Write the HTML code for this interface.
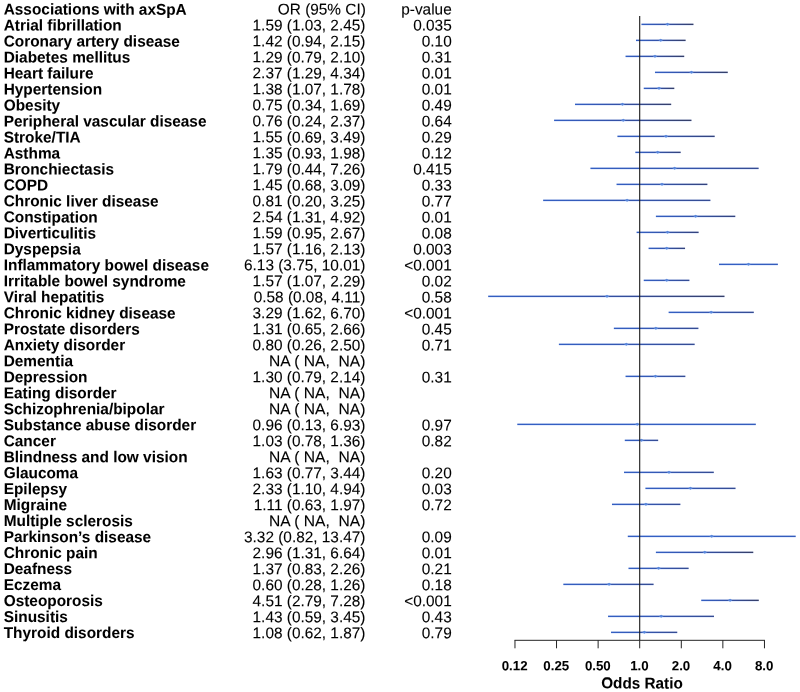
<!DOCTYPE html>
<html lang="en"><head><meta charset="utf-8"><title>Associations with axSpA</title>
<style>
html,body{margin:0;padding:0;background:#fff;}
svg{display:block}
text{font-family:"Liberation Sans",Arial,sans-serif;fill:#000;text-rendering:geometricPrecision;}
.or,.pv{stroke:#000;stroke-width:0.1px;}
.lab,.tk,.ax{stroke:#000;stroke-width:0.05px;}
.lab{font-weight:bold;font-size:15.4px;}
.or{font-size:15.38px;text-anchor:end;}
.pv{font-size:15.38px;text-anchor:end;}
.tk{font-weight:bold;font-size:13.3px;text-anchor:middle;}
.ax{font-weight:bold;font-size:15.3px;text-anchor:middle;}
</style></head><body>
<svg width="800" height="692" viewBox="0 0 800 692">
<defs><linearGradient id="ga" x1="0" x2="1" y1="0" y2="0"><stop offset="0" stop-color="#2150bc"/><stop offset="0.5" stop-color="#213f9a"/><stop offset="1" stop-color="#242c56"/></linearGradient><linearGradient id="gb" x1="0" x2="1" y1="0" y2="0"><stop offset="0" stop-color="#2150bc"/><stop offset="0.5" stop-color="#2247a8"/><stop offset="1" stop-color="#233a86"/></linearGradient><linearGradient id="gc" x1="0" x2="1" y1="0" y2="0"><stop offset="0" stop-color="#2150bc"/><stop offset="0.5" stop-color="#2150bc"/><stop offset="1" stop-color="#224db4"/></linearGradient><linearGradient id="gd" x1="0" x2="1" y1="0" y2="0"><stop offset="0" stop-color="#2150bc"/><stop offset="0.5" stop-color="#21439f"/><stop offset="1" stop-color="#22306c"/></linearGradient></defs>
<rect width="800" height="692" fill="#fff"/>
<text class="lab" transform="translate(3.7 14.50) scale(1.0 1.02) rotate(0.06)">Associations with axSpA</text>
<text class="or" transform="translate(365.8 14.50) scale(1.0 1.01) rotate(0.06)">OR (95% CI)</text>
<text class="pv" transform="translate(451.7 14.50) scale(1.0 1.01) rotate(0.06)">p-value</text>
<text class="lab" transform="translate(3.7 30.49) scale(1.0 1.02) rotate(0.06)">Atrial fibrillation</text>
<text class="or" transform="translate(365.4 30.50) scale(1.0 1.01) rotate(0.06)" style="white-space:pre">1.59 (1.03, 2.45)</text>
<text class="pv" transform="translate(451.7 30.50) scale(1.0 1.01) rotate(0.06)">0.035</text>
<rect x="641.47" y="23.50" width="51.98" height="2.2" fill="#4f86f0" opacity="0.2"/>
<rect x="641.47" y="23.70" width="51.98" height="1.2" fill="url(#ga)"/>
<polygon points="665.22,24.30 667.52,22.80 669.82,24.30 667.52,25.80" fill="#5a88dc"/>
<text class="lab" transform="translate(3.7 46.47) scale(1.0 1.02) rotate(0.06)">Coronary artery disease</text>
<text class="or" transform="translate(365.4 46.49) scale(1.0 1.01) rotate(0.06)" style="white-space:pre">1.42 (0.94, 2.15)</text>
<text class="pv" transform="translate(451.7 46.49) scale(1.0 1.01) rotate(0.06)">0.10</text>
<rect x="635.99" y="39.50" width="49.63" height="2.2" fill="#4f86f0" opacity="0.2"/>
<rect x="635.99" y="39.70" width="49.63" height="1.2" fill="url(#ga)"/>
<polygon points="658.43,40.30 660.73,38.80 663.03,40.30 660.73,41.80" fill="#5a88dc"/>
<text class="lab" transform="translate(3.7 62.46) scale(1.0 1.02) rotate(0.06)">Diabetes mellitus</text>
<text class="or" transform="translate(365.4 62.49) scale(1.0 1.01) rotate(0.06)" style="white-space:pre">1.29 (0.79, 2.10)</text>
<text class="pv" transform="translate(451.7 62.49) scale(1.0 1.01) rotate(0.06)">0.31</text>
<rect x="625.56" y="55.50" width="58.65" height="2.2" fill="#4f86f0" opacity="0.2"/>
<rect x="625.56" y="55.70" width="58.65" height="1.2" fill="url(#ga)"/>
<polygon points="652.68,56.30 654.98,54.80 657.28,56.30 654.98,57.80" fill="#5a88dc"/>
<text class="lab" transform="translate(3.7 78.45) scale(1.0 1.02) rotate(0.06)">Heart failure</text>
<text class="or" transform="translate(365.4 78.48) scale(1.0 1.01) rotate(0.06)" style="white-space:pre">2.37 (1.29, 4.34)</text>
<text class="pv" transform="translate(451.7 78.48) scale(1.0 1.01) rotate(0.06)">0.01</text>
<rect x="654.98" y="71.50" width="72.78" height="2.2" fill="#4f86f0" opacity="0.2"/>
<rect x="654.98" y="71.70" width="72.78" height="1.2" fill="url(#ga)"/>
<polygon points="689.16,72.30 691.46,70.80 693.76,72.30 691.46,73.80" fill="#5a88dc"/>
<text class="lab" transform="translate(3.7 94.44) scale(1.0 1.02) rotate(0.06)">Hypertension</text>
<text class="or" transform="translate(365.4 94.48) scale(1.0 1.01) rotate(0.06)" style="white-space:pre">1.38 (1.07, 1.78)</text>
<text class="pv" transform="translate(451.7 94.48) scale(1.0 1.01) rotate(0.06)">0.01</text>
<rect x="643.76" y="87.50" width="30.53" height="2.2" fill="#4f86f0" opacity="0.2"/>
<rect x="643.76" y="87.70" width="30.53" height="1.2" fill="url(#ga)"/>
<polygon points="656.72,88.30 659.02,86.80 661.32,88.30 659.02,89.80" fill="#5a88dc"/>
<text class="lab" transform="translate(3.7 110.42) scale(1.0 1.02) rotate(0.06)">Obesity</text>
<text class="or" transform="translate(365.4 110.48) scale(1.0 1.01) rotate(0.06)" style="white-space:pre">0.75 (0.34, 1.69)</text>
<text class="pv" transform="translate(451.7 110.48) scale(1.0 1.01) rotate(0.06)">0.49</text>
<rect x="574.99" y="103.50" width="96.19" height="2.2" fill="#4f86f0" opacity="0.2"/>
<rect x="574.99" y="103.70" width="96.19" height="1.2" fill="url(#ga)"/>
<polygon points="620.14,104.30 622.44,102.80 624.74,104.30 622.44,105.80" fill="#5a88dc"/>
<text class="lab" transform="translate(3.7 126.41) scale(1.0 1.02) rotate(0.06)">Peripheral vascular disease</text>
<text class="or" transform="translate(365.4 126.47) scale(1.0 1.01) rotate(0.06)" style="white-space:pre">0.76 (0.24, 2.37)</text>
<text class="pv" transform="translate(451.7 126.47) scale(1.0 1.01) rotate(0.06)">0.64</text>
<rect x="554.09" y="119.50" width="137.37" height="2.2" fill="#4f86f0" opacity="0.2"/>
<rect x="554.09" y="119.70" width="137.37" height="1.2" fill="url(#ga)"/>
<polygon points="620.94,120.30 623.24,118.80 625.54,120.30 623.24,121.80" fill="#5a88dc"/>
<text class="lab" transform="translate(3.7 142.40) scale(1.0 1.02) rotate(0.06)">Stroke/TIA</text>
<text class="or" transform="translate(365.4 142.47) scale(1.0 1.01) rotate(0.06)" style="white-space:pre">1.55 (0.69, 3.49)</text>
<text class="pv" transform="translate(451.7 142.47) scale(1.0 1.01) rotate(0.06)">0.29</text>
<rect x="617.44" y="135.50" width="97.24" height="2.2" fill="#4f86f0" opacity="0.2"/>
<rect x="617.44" y="135.70" width="97.24" height="1.2" fill="url(#gd)"/>
<polygon points="663.69,136.30 665.99,134.80 668.29,136.30 665.99,137.80" fill="#5a88dc"/>
<text class="lab" transform="translate(3.7 158.38) scale(1.0 1.02) rotate(0.06)">Asthma</text>
<text class="or" transform="translate(365.4 158.46) scale(1.0 1.01) rotate(0.06)" style="white-space:pre">1.35 (0.93, 1.98)</text>
<text class="pv" transform="translate(451.7 158.46) scale(1.0 1.01) rotate(0.06)">0.12</text>
<rect x="635.35" y="151.50" width="45.33" height="2.2" fill="#4f86f0" opacity="0.2"/>
<rect x="635.35" y="151.70" width="45.33" height="1.2" fill="url(#gd)"/>
<polygon points="655.40,152.30 657.70,150.80 660.00,152.30 657.70,153.80" fill="#5a88dc"/>
<text class="lab" transform="translate(3.7 174.37) scale(1.0 1.02) rotate(0.06)">Bronchiectasis</text>
<text class="or" transform="translate(365.4 174.46) scale(1.0 1.01) rotate(0.06)" style="white-space:pre">1.79 (0.44, 7.26)</text>
<text class="pv" transform="translate(451.7 174.46) scale(1.0 1.01) rotate(0.06)">0.415</text>
<rect x="590.45" y="167.50" width="168.17" height="2.2" fill="#4f86f0" opacity="0.2"/>
<rect x="590.45" y="167.70" width="168.17" height="1.2" fill="url(#gb)"/>
<polygon points="672.33,168.30 674.63,166.80 676.93,168.30 674.63,169.80" fill="#5a88dc"/>
<text class="lab" transform="translate(3.7 190.36) scale(1.0 1.02) rotate(0.06)">COPD</text>
<text class="or" transform="translate(365.4 190.46) scale(1.0 1.01) rotate(0.06)" style="white-space:pre">1.45 (0.68, 3.09)</text>
<text class="pv" transform="translate(451.7 190.46) scale(1.0 1.01) rotate(0.06)">0.33</text>
<rect x="616.57" y="183.50" width="90.81" height="2.2" fill="#4f86f0" opacity="0.2"/>
<rect x="616.57" y="183.70" width="90.81" height="1.2" fill="url(#gd)"/>
<polygon points="659.69,184.30 661.99,182.80 664.29,184.30 661.99,185.80" fill="#5a88dc"/>
<text class="lab" transform="translate(3.7 206.34) scale(1.0 1.02) rotate(0.06)">Chronic liver disease</text>
<text class="or" transform="translate(365.4 206.45) scale(1.0 1.01) rotate(0.06)" style="white-space:pre">0.81 (0.20, 3.25)</text>
<text class="pv" transform="translate(451.7 206.45) scale(1.0 1.01) rotate(0.06)">0.77</text>
<rect x="543.15" y="199.50" width="167.25" height="2.2" fill="#4f86f0" opacity="0.2"/>
<rect x="543.15" y="199.70" width="167.25" height="1.2" fill="url(#gb)"/>
<polygon points="624.76,200.30 627.06,198.80 629.36,200.30 627.06,201.80" fill="#5a88dc"/>
<text class="lab" transform="translate(3.7 222.33) scale(1.0 1.02) rotate(0.06)">Constipation</text>
<text class="or" transform="translate(365.4 222.45) scale(1.0 1.01) rotate(0.06)" style="white-space:pre">2.54 (1.31, 4.92)</text>
<text class="pv" transform="translate(451.7 222.45) scale(1.0 1.01) rotate(0.06)">0.01</text>
<rect x="655.90" y="215.50" width="79.38" height="2.2" fill="#4f86f0" opacity="0.2"/>
<rect x="655.90" y="215.70" width="79.38" height="1.2" fill="url(#gd)"/>
<polygon points="693.32,216.30 695.62,214.80 697.92,216.30 695.62,217.80" fill="#5a88dc"/>
<text class="lab" transform="translate(3.7 238.32) scale(1.0 1.02) rotate(0.06)">Diverticulitis</text>
<text class="or" transform="translate(365.4 238.44) scale(1.0 1.01) rotate(0.06)" style="white-space:pre">1.59 (0.95, 2.67)</text>
<text class="pv" transform="translate(451.7 238.44) scale(1.0 1.01) rotate(0.06)">0.08</text>
<rect x="636.62" y="231.50" width="61.99" height="2.2" fill="#4f86f0" opacity="0.2"/>
<rect x="636.62" y="231.70" width="61.99" height="1.2" fill="url(#gd)"/>
<polygon points="665.22,232.30 667.52,230.80 669.82,232.30 667.52,233.80" fill="#5a88dc"/>
<text class="lab" transform="translate(3.7 254.31) scale(1.0 1.02) rotate(0.06)">Dyspepsia</text>
<text class="or" transform="translate(365.4 254.44) scale(1.0 1.01) rotate(0.06)" style="white-space:pre">1.57 (1.16, 2.13)</text>
<text class="pv" transform="translate(451.7 254.44) scale(1.0 1.01) rotate(0.06)">0.003</text>
<rect x="648.60" y="247.50" width="36.45" height="2.2" fill="#4f86f0" opacity="0.2"/>
<rect x="648.60" y="247.70" width="36.45" height="1.2" fill="url(#gd)"/>
<polygon points="664.46,248.30 666.76,246.80 669.06,248.30 666.76,249.80" fill="#5a88dc"/>
<text class="lab" transform="translate(3.7 270.29) scale(1.0 1.02) rotate(0.06)">Inflammatory bowel disease</text>
<text class="or" transform="translate(365.4 270.44) scale(1.0 1.01) rotate(0.06)" style="white-space:pre">6.13 (3.75, 10.01)</text>
<text class="pv" transform="translate(451.7 270.44) scale(1.0 1.01) rotate(0.06)">&lt;0.001</text>
<rect x="718.99" y="263.50" width="58.90" height="2.2" fill="#4f86f0" opacity="0.2"/>
<rect x="718.99" y="263.70" width="58.90" height="1.2" fill="url(#gc)"/>
<polygon points="746.17,264.30 748.47,262.80 750.77,264.30 748.47,265.80" fill="#5a88dc"/>
<text class="lab" transform="translate(3.7 286.28) scale(1.0 1.02) rotate(0.06)">Irritable bowel syndrome</text>
<text class="or" transform="translate(365.4 286.43) scale(1.0 1.01) rotate(0.06)" style="white-space:pre">1.57 (1.07, 2.29)</text>
<text class="pv" transform="translate(451.7 286.43) scale(1.0 1.01) rotate(0.06)">0.02</text>
<rect x="643.76" y="279.50" width="45.64" height="2.2" fill="#4f86f0" opacity="0.2"/>
<rect x="643.76" y="279.70" width="45.64" height="1.2" fill="url(#gb)"/>
<polygon points="664.46,280.30 666.76,278.80 669.06,280.30 666.76,281.80" fill="#5a88dc"/>
<text class="lab" transform="translate(3.7 302.27) scale(1.0 1.02) rotate(0.06)">Viral hepatitis</text>
<text class="or" transform="translate(365.4 302.43) scale(1.0 1.01) rotate(0.06)" style="white-space:pre">0.58 (0.08, 4.11)</text>
<text class="pv" transform="translate(451.7 302.43) scale(1.0 1.01) rotate(0.06)">0.58</text>
<rect x="488.19" y="295.50" width="236.30" height="2.2" fill="#4f86f0" opacity="0.2"/>
<rect x="488.19" y="295.70" width="236.30" height="1.2" fill="url(#ga)"/>
<polygon points="604.72,296.30 607.02,294.80 609.32,296.30 607.02,297.80" fill="#5a88dc"/>
<text class="lab" transform="translate(3.7 318.25) scale(1.0 1.02) rotate(0.06)">Chronic kidney disease</text>
<text class="or" transform="translate(365.4 318.42) scale(1.0 1.01) rotate(0.06)" style="white-space:pre">3.29 (1.62, 6.70)</text>
<text class="pv" transform="translate(451.7 318.42) scale(1.0 1.01) rotate(0.06)">&lt;0.001</text>
<rect x="668.64" y="311.50" width="85.16" height="2.2" fill="#4f86f0" opacity="0.2"/>
<rect x="668.64" y="311.70" width="85.16" height="1.2" fill="url(#gb)"/>
<polygon points="708.84,312.30 711.14,310.80 713.44,312.30 711.14,313.80" fill="#5a88dc"/>
<text class="lab" transform="translate(3.7 334.24) scale(1.0 1.02) rotate(0.06)">Prostate disorders</text>
<text class="or" transform="translate(365.4 334.42) scale(1.0 1.01) rotate(0.06)" style="white-space:pre">1.31 (0.65, 2.66)</text>
<text class="pv" transform="translate(451.7 334.42) scale(1.0 1.01) rotate(0.06)">0.45</text>
<rect x="613.86" y="327.50" width="84.53" height="2.2" fill="#4f86f0" opacity="0.2"/>
<rect x="613.86" y="327.70" width="84.53" height="1.2" fill="url(#gb)"/>
<polygon points="653.60,328.30 655.90,326.80 658.20,328.30 655.90,329.80" fill="#5a88dc"/>
<text class="lab" transform="translate(3.7 350.23) scale(1.0 1.02) rotate(0.06)">Anxiety disorder</text>
<text class="or" transform="translate(365.4 350.42) scale(1.0 1.01) rotate(0.06)" style="white-space:pre">0.80 (0.26, 2.50)</text>
<text class="pv" transform="translate(451.7 350.42) scale(1.0 1.01) rotate(0.06)">0.71</text>
<rect x="558.89" y="343.50" width="135.77" height="2.2" fill="#4f86f0" opacity="0.2"/>
<rect x="558.89" y="343.70" width="135.77" height="1.2" fill="url(#gb)"/>
<polygon points="624.01,344.30 626.31,342.80 628.61,344.30 626.31,345.80" fill="#5a88dc"/>
<text class="lab" transform="translate(3.7 366.21) scale(1.0 1.02) rotate(0.06)">Dementia</text>
<text class="or" transform="translate(365.4 366.41) scale(1.017 1.01) rotate(0.06)" style="white-space:pre">NA ( NA,  NA)</text>
<text class="lab" transform="translate(3.7 382.20) scale(1.0 1.02) rotate(0.06)">Depression</text>
<text class="or" transform="translate(365.4 382.41) scale(1.0 1.01) rotate(0.06)" style="white-space:pre">1.30 (0.79, 2.14)</text>
<text class="pv" transform="translate(451.7 382.41) scale(1.0 1.01) rotate(0.06)">0.31</text>
<rect x="625.56" y="375.50" width="59.78" height="2.2" fill="#4f86f0" opacity="0.2"/>
<rect x="625.56" y="375.70" width="59.78" height="1.2" fill="url(#gb)"/>
<polygon points="653.14,376.30 655.44,374.80 657.74,376.30 655.44,377.80" fill="#5a88dc"/>
<text class="lab" transform="translate(3.7 398.19) scale(1.0 1.02) rotate(0.06)">Eating disorder</text>
<text class="or" transform="translate(365.4 398.40) scale(1.017 1.01) rotate(0.06)" style="white-space:pre">NA ( NA,  NA)</text>
<text class="lab" transform="translate(3.7 414.18) scale(1.0 1.02) rotate(0.06)">Schizophrenia/bipolar</text>
<text class="or" transform="translate(365.4 414.40) scale(1.017 1.01) rotate(0.06)" style="white-space:pre">NA ( NA,  NA)</text>
<text class="lab" transform="translate(3.7 430.16) scale(1.0 1.02) rotate(0.06)">Substance abuse disorder</text>
<text class="or" transform="translate(365.4 430.40) scale(1.0 1.01) rotate(0.06)" style="white-space:pre">0.96 (0.13, 6.93)</text>
<text class="pv" transform="translate(451.7 430.40) scale(1.0 1.01) rotate(0.06)">0.97</text>
<rect x="517.31" y="423.50" width="238.51" height="2.2" fill="#4f86f0" opacity="0.2"/>
<rect x="517.31" y="423.70" width="238.51" height="1.2" fill="url(#gc)"/>
<polygon points="634.95,424.30 637.25,422.80 639.55,424.30 637.25,425.80" fill="#5a88dc"/>
<text class="lab" transform="translate(3.7 446.15) scale(1.0 1.02) rotate(0.06)">Cancer</text>
<text class="or" transform="translate(365.4 446.39) scale(1.0 1.01) rotate(0.06)" style="white-space:pre">1.03 (0.78, 1.36)</text>
<text class="pv" transform="translate(451.7 446.39) scale(1.0 1.01) rotate(0.06)">0.82</text>
<rect x="624.80" y="439.50" width="33.35" height="2.2" fill="#4f86f0" opacity="0.2"/>
<rect x="624.80" y="439.70" width="33.35" height="1.2" fill="url(#gb)"/>
<polygon points="639.17,440.30 641.47,438.80 643.77,440.30 641.47,441.80" fill="#5a88dc"/>
<text class="lab" transform="translate(3.7 462.14) scale(1.0 1.02) rotate(0.06)">Blindness and low vision</text>
<text class="or" transform="translate(365.4 462.39) scale(1.017 1.01) rotate(0.06)" style="white-space:pre">NA ( NA,  NA)</text>
<text class="lab" transform="translate(3.7 478.12) scale(1.0 1.02) rotate(0.06)">Glaucoma</text>
<text class="or" transform="translate(365.4 478.38) scale(1.0 1.01) rotate(0.06)" style="white-space:pre">1.63 (0.77, 3.44)</text>
<text class="pv" transform="translate(451.7 478.38) scale(1.0 1.01) rotate(0.06)">0.20</text>
<rect x="624.02" y="471.50" width="89.79" height="2.2" fill="#4f86f0" opacity="0.2"/>
<rect x="624.02" y="471.70" width="89.79" height="1.2" fill="url(#gb)"/>
<polygon points="666.71,472.30 669.01,470.80 671.31,472.30 669.01,473.80" fill="#5a88dc"/>
<text class="lab" transform="translate(3.7 494.11) scale(1.0 1.02) rotate(0.06)">Epilepsy</text>
<text class="or" transform="translate(365.4 494.38) scale(1.0 1.01) rotate(0.06)" style="white-space:pre">2.33 (1.10, 4.94)</text>
<text class="pv" transform="translate(451.7 494.38) scale(1.0 1.01) rotate(0.06)">0.03</text>
<rect x="645.42" y="487.50" width="90.10" height="2.2" fill="#4f86f0" opacity="0.2"/>
<rect x="645.42" y="487.70" width="90.10" height="1.2" fill="url(#gb)"/>
<polygon points="688.14,488.30 690.44,486.80 692.74,488.30 690.44,489.80" fill="#5a88dc"/>
<text class="lab" transform="translate(3.7 510.10) scale(1.0 1.02) rotate(0.06)">Migraine</text>
<text class="or" transform="translate(365.4 510.38) scale(1.0 1.01) rotate(0.06)" style="white-space:pre">1.11 (0.63, 1.97)</text>
<text class="pv" transform="translate(451.7 510.38) scale(1.0 1.01) rotate(0.06)">0.72</text>
<rect x="611.98" y="503.50" width="68.39" height="2.2" fill="#4f86f0" opacity="0.2"/>
<rect x="611.98" y="503.70" width="68.39" height="1.2" fill="url(#gb)"/>
<polygon points="643.66,504.30 645.96,502.80 648.26,504.30 645.96,505.80" fill="#5a88dc"/>
<text class="lab" transform="translate(3.7 526.08) scale(1.0 1.02) rotate(0.06)">Multiple sclerosis</text>
<text class="or" transform="translate(365.4 526.37) scale(1.017 1.01) rotate(0.06)" style="white-space:pre">NA ( NA,  NA)</text>
<text class="lab" transform="translate(3.7 542.07) scale(1.0 1.02) rotate(0.06)">Parkinson’s disease</text>
<text class="or" transform="translate(365.4 542.37) scale(1.0 1.01) rotate(0.06)" style="white-space:pre">3.32 (0.82, 13.47)</text>
<text class="pv" transform="translate(451.7 542.37) scale(1.0 1.01) rotate(0.06)">0.09</text>
<rect x="627.80" y="535.50" width="167.90" height="2.2" fill="#4f86f0" opacity="0.2"/>
<rect x="627.80" y="535.70" width="167.90" height="1.2" fill="url(#gc)"/>
<polygon points="709.38,536.30 711.68,534.80 713.98,536.30 711.68,537.80" fill="#5a88dc"/>
<text class="lab" transform="translate(3.7 558.06) scale(1.0 1.02) rotate(0.06)">Chronic pain</text>
<text class="or" transform="translate(365.4 558.36) scale(1.0 1.01) rotate(0.06)" style="white-space:pre">2.96 (1.31, 6.64)</text>
<text class="pv" transform="translate(451.7 558.36) scale(1.0 1.01) rotate(0.06)">0.01</text>
<rect x="655.90" y="551.50" width="97.36" height="2.2" fill="#4f86f0" opacity="0.2"/>
<rect x="655.90" y="551.70" width="97.36" height="1.2" fill="url(#ga)"/>
<polygon points="702.50,552.30 704.80,550.80 707.10,552.30 704.80,553.80" fill="#5a88dc"/>
<text class="lab" transform="translate(3.7 574.04) scale(1.0 1.02) rotate(0.06)">Deafness</text>
<text class="or" transform="translate(365.4 574.36) scale(1.0 1.01) rotate(0.06)" style="white-space:pre">1.37 (0.83, 2.26)</text>
<text class="pv" transform="translate(451.7 574.36) scale(1.0 1.01) rotate(0.06)">0.21</text>
<rect x="628.52" y="567.50" width="60.09" height="2.2" fill="#4f86f0" opacity="0.2"/>
<rect x="628.52" y="567.70" width="60.09" height="1.2" fill="url(#gb)"/>
<polygon points="656.28,568.30 658.58,566.80 660.88,568.30 658.58,569.80" fill="#5a88dc"/>
<text class="lab" transform="translate(3.7 590.03) scale(1.0 1.02) rotate(0.06)">Eczema</text>
<text class="or" transform="translate(365.4 590.36) scale(1.0 1.01) rotate(0.06)" style="white-space:pre">0.60 (0.28, 1.26)</text>
<text class="pv" transform="translate(451.7 590.36) scale(1.0 1.01) rotate(0.06)">0.18</text>
<rect x="563.34" y="583.50" width="90.23" height="2.2" fill="#4f86f0" opacity="0.2"/>
<rect x="563.34" y="583.70" width="90.23" height="1.2" fill="url(#gb)"/>
<polygon points="606.76,584.30 609.06,582.80 611.36,584.30 609.06,585.80" fill="#5a88dc"/>
<text class="lab" transform="translate(3.7 606.02) scale(1.0 1.02) rotate(0.06)">Osteoporosis</text>
<text class="or" transform="translate(365.4 606.35) scale(1.0 1.01) rotate(0.06)" style="white-space:pre">4.51 (2.79, 7.28)</text>
<text class="pv" transform="translate(451.7 606.35) scale(1.0 1.01) rotate(0.06)">&lt;0.001</text>
<rect x="701.25" y="599.50" width="57.53" height="2.2" fill="#4f86f0" opacity="0.2"/>
<rect x="701.25" y="599.70" width="57.53" height="1.2" fill="url(#ga)"/>
<polygon points="727.76,600.30 730.06,598.80 732.36,600.30 730.06,601.80" fill="#5a88dc"/>
<text class="lab" transform="translate(3.7 622.01) scale(1.0 1.02) rotate(0.06)">Sinusitis</text>
<text class="or" transform="translate(365.4 622.35) scale(1.0 1.01) rotate(0.06)" style="white-space:pre">1.43 (0.59, 3.45)</text>
<text class="pv" transform="translate(451.7 622.35) scale(1.0 1.01) rotate(0.06)">0.43</text>
<rect x="608.05" y="615.50" width="105.94" height="2.2" fill="#4f86f0" opacity="0.2"/>
<rect x="608.05" y="615.70" width="105.94" height="1.2" fill="url(#gb)"/>
<polygon points="658.86,616.30 661.16,614.80 663.46,616.30 661.16,617.80" fill="#5a88dc"/>
<text class="lab" transform="translate(3.7 637.99) scale(1.0 1.02) rotate(0.06)">Thyroid disorders</text>
<text class="or" transform="translate(365.4 638.34) scale(1.0 1.01) rotate(0.06)" style="white-space:pre">1.08 (0.62, 1.87)</text>
<text class="pv" transform="translate(451.7 638.34) scale(1.0 1.01) rotate(0.06)">0.79</text>
<rect x="611.02" y="631.50" width="66.22" height="2.2" fill="#4f86f0" opacity="0.2"/>
<rect x="611.02" y="631.70" width="66.22" height="1.2" fill="url(#gb)"/>
<polygon points="642.02,632.30 644.32,630.80 646.62,632.30 644.32,633.80" fill="#5a88dc"/>
<rect x="639.15" y="16" width="1.1" height="624" fill="#1a1a1a"/>
<rect x="514.49" y="639.82" width="250.43" height="0.95" fill="#1a1a1a"/>
<rect x="514.49" y="640.30" width="0.95" height="8" fill="#1a1a1a"/>
<text class="tk" transform="translate(514.66 670.3) scale(1.0 1.0) rotate(0.06)">0.12</text>
<rect x="556.07" y="640.30" width="0.95" height="8" fill="#1a1a1a"/>
<text class="tk" transform="translate(556.24 670.3) scale(1.0 1.0) rotate(0.06)">0.25</text>
<rect x="597.64" y="640.30" width="0.95" height="8" fill="#1a1a1a"/>
<text class="tk" transform="translate(597.82 670.3) scale(1.0 1.0) rotate(0.06)">0.50</text>
<rect x="639.23" y="640.30" width="0.95" height="8" fill="#1a1a1a"/>
<text class="tk" transform="translate(639.40 670.3) scale(1.0 1.0) rotate(0.06)">1.0</text>
<rect x="680.81" y="640.30" width="0.95" height="8" fill="#1a1a1a"/>
<text class="tk" transform="translate(680.98 670.3) scale(1.0 1.0) rotate(0.06)">2.0</text>
<rect x="722.38" y="640.30" width="0.95" height="8" fill="#1a1a1a"/>
<text class="tk" transform="translate(722.56 670.3) scale(1.0 1.0) rotate(0.06)">4.0</text>
<rect x="763.97" y="640.30" width="0.95" height="8" fill="#1a1a1a"/>
<text class="tk" transform="translate(764.14 670.3) scale(1.0 1.0) rotate(0.06)">8.0</text>
<text class="ax" transform="translate(642.00 688.4) scale(1.0 1.02) rotate(0.06)">Odds Ratio</text>
</svg></body></html>
